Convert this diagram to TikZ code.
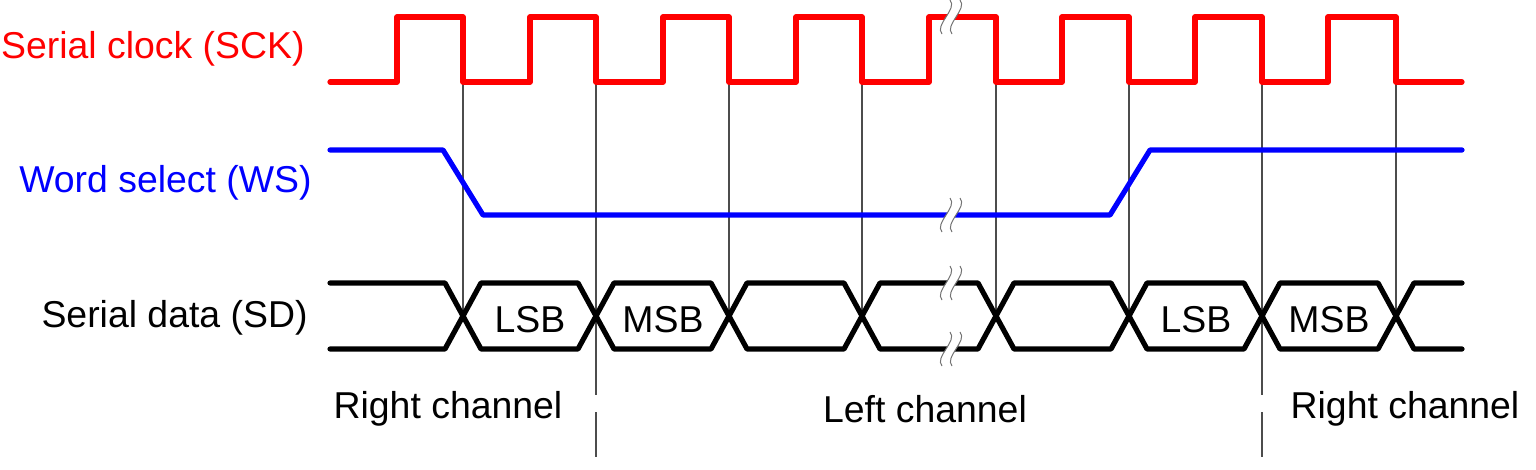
\documentclass[tikz,border=0pt]{standalone}
\usepackage{fontspec}
\setmainfont{Liberation Sans}
\newcommand{\gapmark}[2]{%
\begin{scope}[shift={(#1,#2)}]
\draw[white,line width=4pt] (4,-17) .. controls (12,-8) and (-12,8) .. (-4,17);
\draw[wave] (-1,-17) .. controls (7,-8) and (-17,8) .. (-9,17);
\draw[wave] (9,-17) .. controls (17,-8) and (-7,8) .. (1,17);
\end{scope}}
\begin{document}
\begin{tikzpicture}[x=0.5pt,y=-0.5pt,
  sig/.style={line width=2.6pt,line join=round,line cap=round},
  tick/.style={black!70,line width=0.65pt},
  wave/.style={black!55,line width=0.5pt},
  lbl/.style={font=\fontsize{18.7}{22}\selectfont,inner sep=0pt}]
\useasboundingbox (0,0) rectangle (1536,470);
% labels
\node[lbl,red,anchor=east] (sck) at (305,49) {Serial clock (SCK)};
\node[lbl,blue,anchor=east] (ws) at (312,183) {Word select (WS)};
\node[lbl,anchor=east] (sd) at (308,318) {Serial data (SD)};
\node[lbl] (lsbA) at (530,320) {LSB};
\node[lbl] (msbA) at (663,320) {MSB};
\node[lbl] (lsbB) at (1196,320) {LSB};
\node[lbl] (msbB) at (1329,320) {MSB};
\node[lbl] (rightA) at (448,409) {Right channel};
\node[lbl] (left) at (925,409) {Left channel};
\node[lbl] (rightB) at (1405,409) {Right channel};
% clock edges
\draw[tick] (463,82)--(463,316);
\draw[tick] (596,82)--(596,395);
\draw[tick] (596,412)--(596,457);
\draw[tick] (729,82)--(729,316);
\draw[tick] (862,82)--(862,316);
\draw[tick] (996,82)--(996,316);
\draw[tick] (1129,82)--(1129,316);
\draw[tick] (1262,82)--(1262,395);
\draw[tick] (1262,412)--(1262,457);
\draw[tick] (1396,82)--(1396,316);
% SCK
\draw[sig,red] (330,82)--(397,82)--(397,17)--(463,17)--(463,82)--(530,82)--(530,17)--(596,17)--(596,82)
  --(663,82)--(663,17)--(729,17)--(729,82)--(796,82)--(796,17)--(862,17)--(862,82)--(929,82)--(929,17)
  --(996,17)--(996,82)--(1062,82)--(1062,17)--(1129,17)--(1129,82)--(1195,82)--(1195,17)--(1262,17)
  --(1262,82)--(1328,82)--(1328,17)--(1396,17)--(1396,82)--(1462,82);
% WS
\draw[sig,blue] (330,150)--(443,150)--(483,215)--(1110,215)--(1150,150)--(1462,150);
% SD
\draw[sig] (330,283)--(445,283)--(481,349)--(578,349)--(614,283)--(711,283)--(747,349)--(844,349)
  --(880,283)--(978,283)--(1014,349)--(1111,349)--(1147,283)--(1244,283)--(1280,349)--(1378,349)
  --(1414,283)--(1462,283);
\draw[sig] (330,349)--(445,349)--(481,283)--(578,283)--(614,349)--(711,349)--(747,283)--(844,283)
  --(880,349)--(978,349)--(1014,283)--(1111,283)--(1147,349)--(1244,349)--(1280,283)--(1378,283)
  --(1414,349)--(1462,349);
% breaks
\gapmark{951}{17}
\gapmark{951}{215}
\gapmark{951}{283}
\gapmark{951}{349}
\end{tikzpicture}
\end{document}
